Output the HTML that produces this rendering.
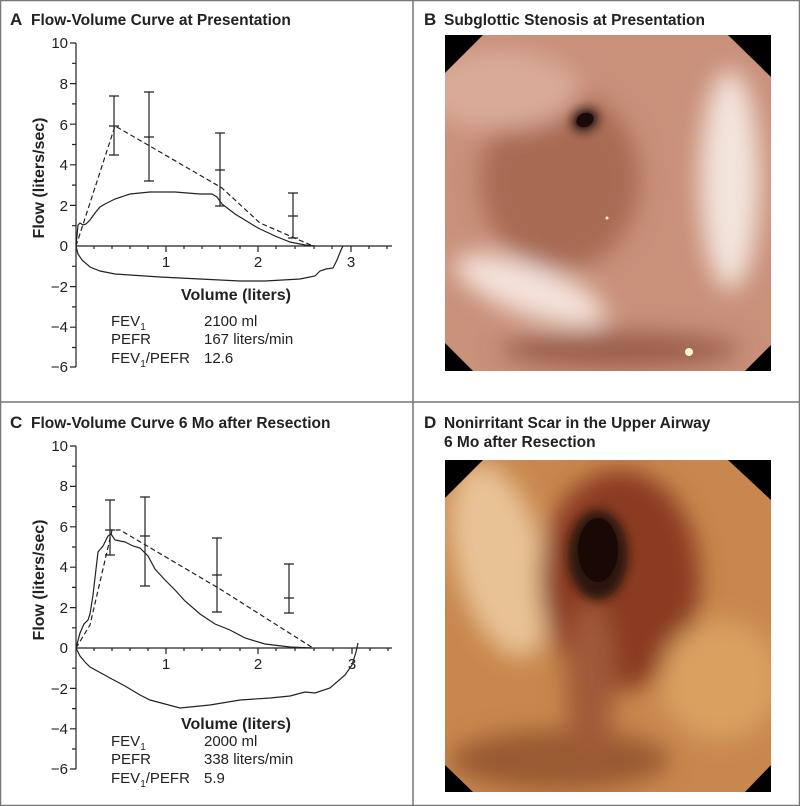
<!DOCTYPE html>
<html><head><meta charset="utf-8"><style>
html,body{margin:0;padding:0;background:#fff;}
svg{display:block;}
text{font-family:"Liberation Sans",sans-serif;fill:#222;}
</style></head><body>
<svg width="800" height="806" viewBox="0 0 800 806" xmlns="http://www.w3.org/2000/svg">
<defs>
<filter id="bl" x="-50%" y="-50%" width="200%" height="200%"><feGaussianBlur stdDeviation="12"/></filter>
<filter id="bl2" x="-50%" y="-50%" width="200%" height="200%"><feGaussianBlur stdDeviation="5"/></filter>
<clipPath id="cb"><polygon points="483,35 728,35 771,77 771,345 745,371 473,371 445,343 445,73"/></clipPath>
<clipPath id="cd"><polygon points="483,460 728,460 771,500 771,765 745,792 473,792 445,765 445,498"/></clipPath>
</defs>
<rect x="0.5" y="0.5" width="799" height="805" fill="none" stroke="#777" stroke-width="1.5"/>
<line x1="413" y1="0" x2="413" y2="806" stroke="#777" stroke-width="1.5"/>
<line x1="0" y1="402" x2="800" y2="402" stroke="#777" stroke-width="1.5"/>

<!-- Panel A -->
<text x="10" y="25" font-size="17" font-weight="bold">A</text>
<text x="31" y="25" font-size="15.5" font-weight="bold">Flow-Volume Curve at Presentation</text>
<g stroke="#222" stroke-width="1.2" fill="none">
<line x1="76" y1="43" x2="76" y2="367"/>
<line x1="76" y1="246" x2="392" y2="246"/>
<path d="M70 43H76M70 83.6H76M70 124.2H76M70 164.8H76M70 205.4H76M70 286.6H76M70 327.2H76M70 367H76"/>
<path d="M72 63.3H76M72 103.9H76M72 144.5H76M72 185.1H76M72 225.7H76M72 266.3H76M72 306.9H76M72 347.5H76"/>
<path d="M166 246V252M258 246V252M351 246V252"/>
<path d="M94 246V249M112 246V249M130 246V249M148 246V249M184 246V249M202 246V249M220 246V249M240 246V249M276 246V249M295 246V249M314 246V249M332 246V249M369 246V249M387 246V249"/>
<path d="M76,246 L78,225 L80,223 L83,225 L86,224 L90,220 L95,213 L100,207 L105,204 L115,199 L130,194 L150,192 L175,192 L200,194 L212,194 L217,197 L222,204 L235,214 L258,228 L275,236 L290,242 L305,245 L315,246"/>
<path d="M76,246 L78,254 L82,260 L90,267 L100,271 L115,274 L130,275 L160,277 L200,279 L240,281 L265,281 L300,279 L315,276 L320,271 L326,269 L333,268 L337,260 L341,250 L343,246"/>
<path d="M76,246 L115,126 L148,145 L222,188 L260,223 L313,246" stroke-dasharray="5,3"/>
<path d="M114,96V155M109,96H119M109,155H119M109,126H119"/>
<path d="M149,92V181M144,92H154M144,181H154M144,137H154"/>
<path d="M220,133V206M215,133H225M215,206H225M215,170H225"/>
<path d="M293,193V238M288,193H298M288,238H298M288,216H298"/>
</g>
<g font-size="15" text-anchor="end">
<text x="68" y="48">10</text><text x="68" y="89">8</text><text x="68" y="130">6</text><text x="68" y="170">4</text><text x="68" y="211">2</text><text x="68" y="251">0</text><text x="68" y="292">−2</text><text x="68" y="332">−4</text><text x="68" y="372">−6</text>
</g>
<g font-size="15" text-anchor="middle"><text x="166" y="267">1</text><text x="258" y="267">2</text><text x="351" y="267">3</text></g>
<text x="236" y="300" font-size="16" font-weight="bold" text-anchor="middle">Volume (liters)</text>
<text transform="translate(44,178) rotate(-90)" font-size="16" font-weight="bold" text-anchor="middle">Flow (liters/sec)</text>
<g font-size="15"><text x="111" y="326">FEV<tspan font-size="10" dy="4">1</tspan></text><text x="204" y="326">2100 ml</text>
<text x="111" y="344">PEFR</text><text x="204" y="344">167 liters/min</text>
<text x="111" y="363">FEV<tspan font-size="10" dy="4">1</tspan><tspan dy="-4">/PEFR</tspan></text><text x="204" y="363">12.6</text></g>

<!-- Panel C -->
<text x="10" y="428" font-size="17" font-weight="bold">C</text>
<text x="31" y="428" font-size="15.5" font-weight="bold">Flow-Volume Curve 6 Mo after Resection</text>
<g stroke="#222" stroke-width="1.2" fill="none">
<line x1="76" y1="446" x2="76" y2="769"/>
<line x1="76" y1="648" x2="392" y2="648"/>
<path d="M70 446H76M70 486.4H76M70 526.8H76M70 567.2H76M70 607.6H76M70 688.4H76M70 728.8H76M70 769H76"/>
<path d="M72 466.2H76M72 506.6H76M72 547H76M72 587.4H76M72 627.8H76M72 668.2H76M72 708.6H76M72 749H76"/>
<path d="M166 648V654M258 648V654M352 648V654"/>
<path d="M94 648V651M112 648V651M130 648V651M148 648V651M184 648V651M202 648V651M220 648V651M240 648V651M276 648V651M295 648V651M314 648V651M333 648V651M370 648V651M388 648V651"/>
<path d="M76,648 L80,633 L84,624 L88,620 L90,614 L93,595 L98,552 L103,546 L108,536 L111,534 L115,540 L125,542 L133,546 L140,548 L148,556 L155,569 L165,580 L175,590 L185,601 L200,614 L215,624 L230,630 L245,638 L265,644 L290,647 L312,648"/>
<path d="M76,648 L80,656 L85,662 L90,667 L110,678 L125,686 L140,695 L150,700 L180,708 L210,705 L240,700 L270,698 L290,696 L305,692 L315,693 L330,688 L345,675 L352,665 L356,652 L358,643"/>
<path d="M76,648 L90,625 L112,530 L120,530 L220,589 L313,648" stroke-dasharray="5,3"/>
<path d="M110,500V555M105,500H115M105,555H115M105,530H115"/>
<path d="M145,497V586M140,497H150M140,586H150M140,536H150"/>
<path d="M217,538V612M212,538H222M212,612H222M212,575H222"/>
<path d="M289,564V613M284,564H294M284,613H294M284,598H294"/>
</g>
<g font-size="15" text-anchor="end">
<text x="68" y="451">10</text><text x="68" y="491">8</text><text x="68" y="532">6</text><text x="68" y="572">4</text><text x="68" y="613">2</text><text x="68" y="653">0</text><text x="68" y="694">−2</text><text x="68" y="734">−4</text><text x="68" y="774">−6</text>
</g>
<g font-size="15" text-anchor="middle"><text x="166" y="669">1</text><text x="258" y="669">2</text><text x="352" y="669">3</text></g>
<text x="236" y="729" font-size="16" font-weight="bold" text-anchor="middle">Volume (liters)</text>
<text transform="translate(44,580) rotate(-90)" font-size="16" font-weight="bold" text-anchor="middle">Flow (liters/sec)</text>
<g font-size="15"><text x="111" y="746">FEV<tspan font-size="10" dy="4">1</tspan></text><text x="204" y="746">2000 ml</text>
<text x="111" y="764">PEFR</text><text x="204" y="764">338 liters/min</text>
<text x="111" y="783">FEV<tspan font-size="10" dy="4">1</tspan><tspan dy="-4">/PEFR</tspan></text><text x="204" y="783">5.9</text></g>

<!-- Panel B -->
<text x="424" y="25" font-size="17" font-weight="bold">B</text>
<text x="444" y="25" font-size="15.5" font-weight="bold">Subglottic Stenosis at Presentation</text>
<rect x="445" y="35" width="326" height="336" fill="#000"/>
<g clip-path="url(#cb)">
<rect x="445" y="35" width="326" height="336" fill="#c9907a"/>
<g filter="url(#bl)">
<ellipse cx="560" cy="180" rx="80" ry="90" fill="#a86a52"/>
<ellipse cx="730" cy="180" rx="30" ry="110" fill="#f3e4dc"/>
<ellipse cx="530" cy="290" rx="80" ry="25" fill="#f4e2da" transform="rotate(20 530 290)"/>
<ellipse cx="500" cy="90" rx="80" ry="40" fill="#d9aa98"/>
<ellipse cx="620" cy="350" rx="120" ry="18" fill="#9a5f4c"/>
</g>
<ellipse cx="585" cy="120" rx="14" ry="11" fill="#2a1414" transform="rotate(-25 585 120)" filter="url(#bl2)"/>
<ellipse cx="585" cy="120" rx="9" ry="7" fill="#1a0a0a" transform="rotate(-25 585 120)"/>
<circle cx="689" cy="352" r="4" fill="#fff6d0"/>
<circle cx="607" cy="218" r="1.5" fill="#fff6d0"/>
</g>

<!-- Panel D -->
<text x="424" y="428" font-size="17" font-weight="bold">D</text>
<text x="444" y="428" font-size="15.5" font-weight="bold">Nonirritant Scar in the Upper Airway</text>
<text x="444" y="447" font-size="15.5" font-weight="bold">6 Mo after Resection</text>
<rect x="445" y="460" width="326" height="332" fill="#000"/>
<g clip-path="url(#cd)">
<rect x="445" y="460" width="326" height="332" fill="#c8874e"/>
<g filter="url(#bl)">
<ellipse cx="500" cy="560" rx="45" ry="100" fill="#e8c294" transform="rotate(-15 500 560)"/>
<ellipse cx="620" cy="580" rx="80" ry="110" fill="#8a3a20"/>
<ellipse cx="720" cy="680" rx="60" ry="60" fill="#d9a060"/>
<ellipse cx="560" cy="760" rx="110" ry="30" fill="#9a5a30"/>
<ellipse cx="590" cy="680" rx="25" ry="80" fill="#a05a38"/>
</g>
<ellipse cx="598" cy="555" rx="30" ry="45" fill="#2a1208" filter="url(#bl2)"/>
<ellipse cx="598" cy="550" rx="20" ry="32" fill="#1a0804"/>
</g>
</svg>
</body></html>
